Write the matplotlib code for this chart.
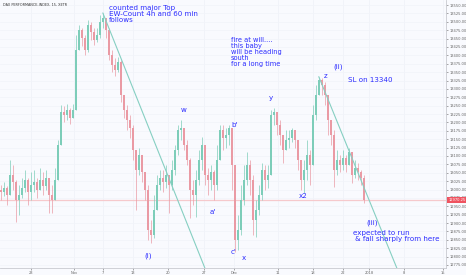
import numpy as np
import matplotlib
matplotlib.use('Agg')
from matplotlib import pyplot as plt
import matplotlib.transforms as mtransforms

# DAX 15min candles (open = previous close)
first_open = 12999
closes = [12993, 13005, 12984, 13044, 13023, 12969, 12984, 13005, 13029, 12993,
          13014, 13023, 12999, 13029, 13011, 13035, 12984, 12969, 13029, 13133,
          13231, 13222, 13237, 13213, 13237, 13416, 13476, 13452, 13416, 13490,
          13470, 13446, 13461, 13499, 13511, 13476, 13401, 13371, 13356, 13380,
          13282, 13237, 13207, 13184, 13118, 13058, 13103, 13052, 12999, 12880,
          12865, 12939, 13014, 13035, 13023, 13044, 13014, 13058, 13118, 13178,
          13184, 13133, 13088, 12999, 12984, 13029, 13088, 13133, 13044, 13029,
          13052, 13014, 13088, 13178, 13154, 13163, 13184, 13073, 12850, 12880,
          12969, 13029, 13073, 13029, 12909, 12939, 12984, 13058, 13029, 13044,
          13222, 13231, 13193, 13163, 13118, 13148, 13154, 13178, 13148, 13088,
          13029, 13058, 13103, 13073, 13222, 13282, 13327, 13312, 13282, 13207,
          13163, 13058, 13088, 13073, 13094, 13073, 13112, 13044, 13064, 13052,
          13035, 12969]
highs = [13014, 13023, 13011, 13088, 13073, 13029, 13014, 13035, 13058, 13035,
         13052, 13058, 13035, 13064, 13052, 13058, 13029, 13014, 13064, 13148,
         13252, 13249, 13255, 13243, 13255, 13461, 13490, 13482, 13461, 13505,
         13499, 13482, 13482, 13520, 13526, 13511, 13482, 13416, 13392, 13395,
         13386, 13282, 13252, 13222, 13193, 13118, 13124, 13088, 13044, 13014,
         12909, 12984, 13044, 13058, 13058, 13073, 13044, 13088, 13133, 13193,
         13207, 13178, 13148, 13094, 13029, 13058, 13118, 13157, 13118, 13064,
         13073, 13058, 13133, 13193, 13193, 13184, 13193, 13178, 13058, 12924,
         13014, 13073, 13112, 13088, 13044, 12969, 13014, 13079, 13073, 13073,
         13237, 13243, 13222, 13207, 13163, 13178, 13178, 13184, 13178, 13148,
         13088, 13088, 13148, 13118, 13252, 13312, 13336, 13333, 13321, 13282,
         13193, 13178, 13118, 13103, 13118, 13103, 13124, 13103, 13088, 13079,
         13058, 13044]
lows = [12969, 12981, 12954, 12999, 12999, 12903, 12924, 12975, 12993, 12954,
        12969, 12993, 12975, 12999, 12984, 12999, 12930, 12930, 12984, 13029,
        13133, 13201, 13207, 13195, 13213, 13336, 13431, 13428, 13401, 13410,
        13446, 13431, 13440, 13452, 13482, 13452, 13386, 13350, 13339, 13350,
        13261, 13213, 13178, 13154, 13088, 12939, 13044, 13023, 12969, 12850,
        12841, 12856, 12969, 12999, 12993, 13005, 12930, 12999, 13044, 13103,
        13148, 13118, 13073, 12915, 12954, 12918, 13014, 13058, 13014, 12984,
        12999, 12969, 12999, 13088, 13118, 13124, 13133, 12999, 12814, 12820,
        12865, 12954, 13014, 12984, 12865, 12859, 12924, 12969, 12999, 13005,
        13044, 13193, 13163, 13133, 13079, 13118, 13124, 13142, 13124, 13058,
        12999, 12990, 13029, 13014, 13073, 13207, 13282, 13282, 13252, 13163,
        13133, 13008, 13044, 13052, 13058, 13052, 13073, 13020, 13035, 13029,
        13014, 12960]

# trend lines (bar index, price)
trend1_x = [34, 68]
trend1_y = [13526, 12766]
trend2_x = [106, 132]
trend2_y = [13336, 12766]

last_price = 12969
last_label = '12970.25'

xtick_pos = [10, 24.3, 34, 44, 55.7, 67.7, 77.7, 92.3, 104, 114, 122.7, 134.3, 147.3]
xtick_lab = ['23', 'Nov', '7', '13', '20', '27', 'Dec', '11', '18', '22', '2018', '8', '15']
yticks = np.arange(12775, 13551, 25)

bg = '#f9fafe'
up_c = '#7dcdb9'
dn_c = '#ea9aa4'
blue = '#2b2bff'

fig = plt.figure(figsize=(4.66, 2.75), dpi=100, facecolor=bg)
ax = fig.add_axes([0, 7/275, 446/466, 268/275], facecolor=bg)

c = np.array(closes, dtype=float)
o = np.concatenate([[first_open], c[:-1]])
h = np.maximum(np.array(highs, dtype=float), np.maximum(o, c))
l = np.minimum(np.array(lows, dtype=float), np.minimum(o, c))
x = np.arange(len(c))
cols = np.where(c >= o, up_c, dn_c)

for p in xtick_pos:
    ax.axvline(p, color='#eef0f7', lw=0.5, zorder=0)
for p in yticks:
    ax.axhline(p, color='#f1f3f9', lw=0.5, zorder=0)

ax.vlines(x, l, h, colors=cols, lw=0.5, zorder=2)
ax.bar(x, np.maximum(np.abs(c - o), 1.5), bottom=np.minimum(o, c), width=0.5,
       color=cols, lw=0, zorder=3)

ax.plot(trend1_x, trend1_y, color='#86cfc2', lw=0.8, zorder=4)
ax.plot(trend2_x, trend2_y, color='#86cfc2', lw=0.8, zorder=4)

ax.axhline(last_price, color='#f6c9cc', lw=0.9, zorder=1)

ax.set_xlim(-0.3, 148.4)
ax.set_ylim(12766, 13565)

ax.yaxis.tick_right()
ax.set_yticks(yticks)
ax.set_yticklabels(['%.2f' % v for v in yticks])
ax.set_xticks(xtick_pos)
ax.set_xticklabels(xtick_lab)
ax.tick_params(axis='both', labelsize=2.6, colors='#666666', length=1.5, width=0.4, pad=1)
for s in ['top', 'left']:
    ax.spines[s].set_visible(False)
for s in ['right', 'bottom']:
    ax.spines[s].set_color('#c8cad0')
    ax.spines[s].set_linewidth(0.6)

trans = mtransforms.blended_transform_factory(ax.transAxes, ax.transData)
ax.text(1.005, last_price, last_label, transform=trans, fontsize=2.6, color='white',
        va='center', ha='left', clip_on=False, zorder=10,
        bbox=dict(boxstyle='square,pad=0.35', fc='#ef5360', ec='none'))

fig.text(3/466, 1 - 5/275, 'DAX PERFORMANCE-INDEX, 15, XETR', fontsize=2.4,
         color='#333333', va='center', ha='left')

kw = dict(color=blue, fontsize=5.1, zorder=6)
ax.text(36, 13549, 'counted major Top\nEW-Count 4h and 60 min\nfollows', va='top',
        linespacing=0.95, **kw)
ax.text(76.7, 13454, 'fire at will....\nthis baby\nwill be heading\nsouth\nfor a long time',
        va='top', linespacing=0.98, color=blue, fontsize=4.8, zorder=6)
ax.text(115.7, 13327, 'SL on 13340', va='center', **kw)
ax.text(110.7, 13365, '(ii)', va='center', **kw)
ax.text(107.5, 13339, 'z', va='center', **kw)
ax.text(61, 13237, 'w', va='center', ha='center', **kw)
ax.text(78, 13193, "b'", va='center', ha='center', **kw)
ax.text(90, 13273, 'y', va='center', ha='center', **kw)
ax.text(70.7, 12933, "a'", va='center', ha='center', **kw)
ax.text(77.7, 12814, "c'", va='center', ha='center', **kw)
ax.text(81, 12796, 'x', va='center', ha='center', **kw)
ax.text(100.7, 12981, 'x2', va='center', ha='center', **kw)
ax.text(49, 12802, '(i)', va='center', ha='center', **kw)
ax.text(123.7, 12900, '(iii)', va='center', ha='center', **kw)
ax.text(117.3, 12871, 'expected to run', va='center', **kw)
ax.text(118, 12853, '& fall sharply from here', va='center', **kw)

fig.savefig('out.png', dpi=100, facecolor=bg)
